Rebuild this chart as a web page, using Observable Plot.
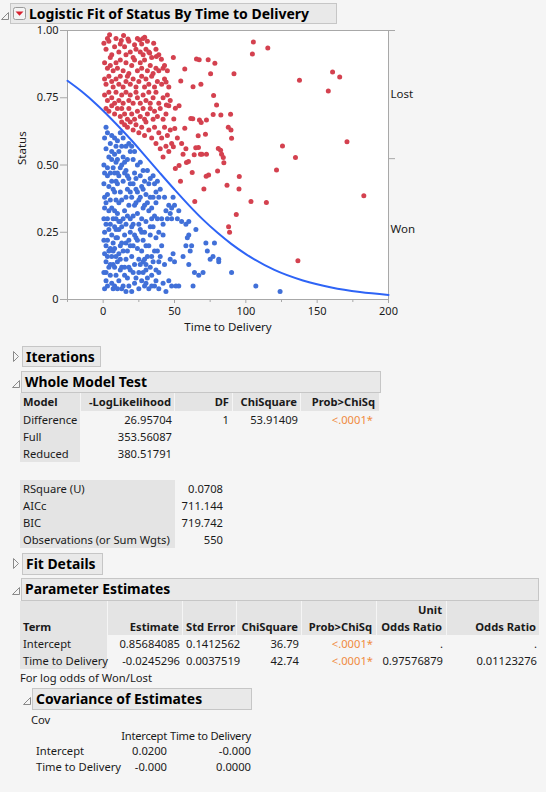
<!DOCTYPE html>
<html><head><meta charset="utf-8">
<script src="https://cdn.jsdelivr.net/npm/d3@7"></script>
<script src="https://cdn.jsdelivr.net/npm/@observablehq/plot@0.6"></script>
<style>
html,body{margin:0;padding:0}
body{width:546px;height:792px;position:relative;overflow:hidden;background:#f5f5f5;font-family:"Noto Sans","Open Sans",sans-serif;font-size:11.2px;color:#1a1a1a}
.hdr{position:absolute;box-sizing:border-box;background:#e9e9e9;border:1px solid #c6c6c6;font-weight:bold;font-size:13.9px;line-height:19px;padding-left:3px;white-space:nowrap;color:#000}
.ico{position:absolute}
.cell{position:absolute;box-sizing:border-box;white-space:nowrap;overflow:visible}
.txt{position:absolute;white-space:nowrap;line-height:17px}
#plot{position:absolute;left:0;top:26px}
</style></head>
<body>
<script>
// ---------------- data ----------------
const xTicks = [0, 50, 100, 150, 200];
const xMinorTicks = [-25, 25, 75, 125, 175];
const yTicks = [0, 0.25, 0.5, 0.75, 1];
const statusLevels = ["Won", "Lost"];
const statusCounts = [288, 262];
// fitted logistic curve, read at these x positions
const curveX = [-25, -15, -5, 0, 10, 20, 30, 40, 50, 60, 70, 80, 90, 100, 120, 140, 160, 180, 200];
const curveY = [0.813, 0.773, 0.727, 0.702, 0.648, 0.591, 0.530, 0.469, 0.409, 0.351, 0.297, 0.249, 0.206, 0.169, 0.110, 0.0707, 0.0445, 0.0277, 0.0171];
// Lost points [time to delivery, plotted probability position]
const lostPoints = [
[105.3,0.957],[104.6,0.913],[115.4,0.935],[91.7,0.839],[137.6,0.815],[160.8,0.846],[165.8,0.827],[157.8,0.775],
[170.9,0.586],[125.7,0.571],[134.8,0.528],[121.5,0.481],[182.7,0.386],[103.6,0.364],[114.4,0.361],[93.3,0.316],
[87.9,0.27],[88.6,0.25],[136.5,0.144],[95.4,0.457],[95.2,0.411],[86.8,0.425],[70.6,0.411],[64.2,0.364],[80.2,0.478],
[84.6,0.508],[84.2,0.528],[83,0.54],[80.7,0.561],[82.3,0.555],[73.9,0.463],[72.2,0.458],[62.4,0.472],[58.4,0.509],
[59.8,0.513],[54.2,0.44],[53.2,0.498],[50.6,0.487],[63.8,0.538],[68.2,0.54],[69.2,0.54],[72.4,0.54],[66.8,0.565],
[64.9,0.564],[57.2,0.637],[62.8,0.672],[61.4,0.673],[67.5,0.667],[68.7,0.658],[72.4,0.667],[71.7,0.614],[66.6,0.609],
[77.1,0.688],[77.4,0.758],[79.5,0.723],[82.5,0.686],[89.3,0.689],[87.7,0.64],[89.6,0.63],[90,0.599],[49.2,0.568],
[50.2,0.636],[49.5,0.671],[63,0.791],[68.5,0.8],[54.4,0.812],[44.1,0.809],[50.6,0.711],[53.2,0.72],[44.3,0.723],
[73.6,0.891],[78.3,0.878],[75.3,0.839],[65.4,0.894],[67.3,0.891],[57.2,0.857],[49.2,0.9],[42,0.86],[40.8,0.893],
[37.3,0.903],[35.4,0.953],[32.6,0.916],[29.1,0.975],[25.6,0.965],[22,0.947],[17.4,0.968],[14.3,0.981],[12.7,0.963],
[4.5,0.984],[0.5,0.953],
[2,0.93],[4,0.96],[6,0.91],[8,0.94],[9,0.97],[11,0.92],[12,0.95],[15,0.94],[16,0.91],[18,0.96],[19,0.92],[21,0.90],
[23,0.93],[24,0.97],[26,0.92],[27,0.95],[28,0.91],[30,0.93],[31,0.96],[32,0.92],[34,0.90],[37,0.93],[39,0.91],[28,0.97],
[5,0.90],[3,0.97],
[1,0.88],[3,0.86],[5,0.87],[7,0.85],[9,0.88],[10,0.86],[12,0.89],[14,0.85],[16,0.88],[18,0.84],[20,0.87],[22,0.89],
[24,0.85],[26,0.88],[27,0.86],[29,0.89],[31,0.85],[33,0.87],[35,0.84],[37,0.86],[39,0.85],[43,0.87],[45,0.85],
[1,0.82],[2,0.80],[4,0.83],[6,0.81],[7,0.79],[9,0.82],[11,0.80],[12,0.83],[14,0.79],[16,0.81],[17,0.83],[19,0.80],
[21,0.82],[23,0.79],[25,0.81],[27,0.83],[29,0.79],[30,0.82],[32,0.80],[34,0.83],[36,0.79],[38,0.81],[41,0.80],[43,0.82],[46,0.79],
[1,0.76],[3,0.74],[4,0.77],[6,0.75],[8,0.73],[9,0.77],[11,0.74],[13,0.76],[14,0.73],[16,0.77],[18,0.74],[19,0.76],
[21,0.73],[23,0.77],[24,0.75],[26,0.73],[28,0.76],[30,0.74],[32,0.77],[33,0.73],[35,0.75],[37,0.77],[39,0.73],[42,0.75],[45,0.76],[47,0.74],
[2,0.71],[4,0.70],[6,0.72],[8,0.69],[10,0.71],[12,0.68],[13,0.71],[15,0.69],[17,0.67],[18,0.71],[20,0.69],[22,0.67],
[24,0.70],[26,0.68],[28,0.71],[29,0.67],[31,0.69],[33,0.71],[35,0.67],[36,0.70],[38,0.68],[40,0.71],[42,0.67],[44,0.69],[46,0.72],
[13,0.66],[15,0.65],[17,0.64],[19,0.66],[21,0.63],[23,0.65],[25,0.62],[27,0.64],[29,0.61],[30,0.66],[32,0.63],[34,0.60],
[36,0.64],[37,0.58],[39,0.62],[41,0.60],[43,0.64],[45,0.61],[47,0.63],[40,0.56],[42,0.53],[44,0.57],[46,0.55],[48,0.58],
[52,0.60],[55,0.58],[56,0.54],[58,0.56]
];
// Won points
const wonPoints = [
[0.5,0.50],[1,0.47],[0.5,0.43],[1,0.38],[2,0.36],[1,0.34],[0.5,0.30],[2,0.28],[1,0.25],[0.5,0.22],[2,0.20],[1,0.17],
[2,0.14],[0.5,0.10],[2,0.07],[1,0.04],[3,0.05],[4,0.12],[4,0.18],[3,0.22],[4,0.26],[3,0.30],[4,0.33],[3,0.39],[4,0.42],
[3,0.46],[2,0.64],[3,0.62],
[5,0.58],[6,0.55],[6,0.52],[7,0.49],[5,0.47],[6,0.44],[7,0.41],[5,0.37],[6,0.34],[7,0.30],[5,0.28],[6,0.24],[7,0.21],
[5,0.19],[6,0.16],[7,0.13],[5,0.09],[6,0.06],[7,0.04],[8,0.60],[9,0.57],[8,0.54],[9,0.51],[8,0.47],[9,0.44],[8,0.40],
[9,0.37],[8,0.33],[9,0.30],[8,0.27],[9,0.23],[8,0.19],[9,0.16],[8,0.12],[9,0.09],[8,0.05],
[10,0.59],[11,0.55],[10,0.52],[12,0.49],[11,0.46],[10,0.43],[12,0.40],[11,0.36],[10,0.32],[12,0.29],[11,0.26],[10,0.23],
[12,0.20],[11,0.17],[10,0.14],[12,0.11],[11,0.07],[10,0.04],[13,0.57],[14,0.53],[13,0.50],[15,0.47],[14,0.44],[13,0.37],
[15,0.33],[14,0.30],[13,0.27],[15,0.24],[14,0.18],[13,0.12],[15,0.09],[14,0.05],
[16,0.57],[17,0.52],[16,0.48],[18,0.45],[17,0.41],[16,0.38],[18,0.35],[17,0.31],[16,0.28],[18,0.22],[17,0.18],[16,0.15],
[18,0.12],[17,0.08],[19,0.55],[19,0.40],[19,0.30],[19,0.20],
[20,0.57],[21,0.52],[22,0.47],[21,0.43],[20,0.38],[22,0.35],[21,0.31],[20,0.27],[22,0.24],[21,0.20],[20,0.16],[22,0.13],
[21,0.10],[24,0.50],[23,0.45],[24,0.40],[23,0.36],[24,0.32],[25,0.28],[23,0.23],[24,0.19],[25,0.15],[23,0.08],
[26,0.46],[27,0.42],[26,0.38],[28,0.34],[27,0.30],[26,0.26],[28,0.22],[27,0.18],[26,0.13],[28,0.10],[27,0.07],[29,0.44],
[30,0.39],[29,0.35],[30,0.29],[29,0.25],[30,0.20],[29,0.15],[30,0.11],[29,0.05],[30,0.13],
[31,0.48],[32,0.43],[33,0.38],[32,0.33],[34,0.30],[33,0.24],[32,0.20],[34,0.16],[33,0.12],[31,0.08],[32,0.04],[35,0.46],
[36,0.43],[35,0.38],[37,0.36],[36,0.31],[35,0.27],[37,0.23],[36,0.18],[35,0.14],[37,0.11],[36,0.05],[38,0.44],[39,0.38],
[38,0.30],[39,0.25],[38,0.18],[39,0.14],
[41,0.30],[42,0.24],[41,0.20],[43,0.13],[42,0.06],[44,0.03],[45,0.30],[46,0.35],[47,0.32],[48,0.30],[47,0.15],[46,0.07],
[49,0.38],[50,0.35],[48,0.34],[49,0.17],[50,0.14],[48,0.05],[51,0.05],[53,0.33],[52,0.30],[53,0.05],
[56,0.16],[58,0.20],[59,0.23],[60,0.24],[58,0.28],[61,0.18],[62,0.20],[60,0.13],[65,0.26],[63,0.05],[64,0.10],[67,0.09],
[70,0.10],[72,0.21],[73,0.18],[75,0.15],[77,0.16],[81,0.15],[81,0.14],[78,0.21],[55,0.29],[60,0.29],
[90,0.10],[107,0.05],[124,0.03],
[1,0.60],[2,0.56],[4,0.53],[3,0.49],[12,0.62],[14,0.60],[18,0.58],[22,0.55],[6,0.61],[10,0.47],[15,0.51],[17,0.46],
[19,0.43],[23,0.41],[25,0.37],[28,0.41],[31,0.36],[33,0.27],[34,0.34],[27,0.25],[24,0.22],[21,0.28],[19,0.25],[16,0.21],
[13,0.21],[11,0.29],[9,0.26],[7,0.18],[3,0.16],[2,0.10],[5,0.13],[12,0.15],[15,0.12],[19,0.11],[22,0.06],[25,0.10],
[28,0.14],[31,0.16],[34,0.09],[37,0.07],[39,0.10],[40,0.16],[42,0.28],[44,0.33],[43,0.38],[40,0.41],[37,0.40],[33,0.45],
[28,0.48],[26,0.51],[18,0.05],[16,0.03],[13,0.04],[20,0.03],[25,0.04],[30,0.06],[34,0.05],[39,0.04]
];
// Whole Model Test
const wmtHeaders = ["Model", "-LogLikelihood", "DF", "ChiSquare", "Prob>ChiSq"];
const wmtModel = ["Difference", "Full", "Reduced"];
const wmtNegLogLik = ["26.95704", "353.56087", "380.51791"];
const wmtDF = ["1", "", ""];
const wmtChiSq = ["53.91409", "", ""];
const wmtProb = ["<.0001*", "", ""];
const fitStatLabels = ["RSquare (U)", "AICc", "BIC", "Observations (or Sum Wgts)"];
const fitStatValues = ["0.0708", "711.144", "719.742", "550"];
// Parameter Estimates
const peHeaders = ["Term", "Estimate", "Std Error", "ChiSquare", "Prob>ChiSq", "Unit<br>Odds Ratio", "Odds Ratio"];
const peTerm = ["Intercept", "Time to Delivery"];
const peEstimate = ["0.85684085", "-0.0245296"];
const peStdErr = ["0.1412562", "0.0037519"];
const peChiSq = ["36.79", "42.74"];
const peProb = ["<.0001*", "<.0001*"];
const peUnitOR = [".", "0.97576879"];
const peOR = [".", "0.01123276"];
// Covariance
const covTerms = ["Intercept", "Time to Delivery"];
const covValues = [["0.0200", "-0.000"], ["-0.000", "0.0000"]];

// ---------------- helpers ----------------
const B = document.body;
function add(html, cls, st) {
  const d = document.createElement("div");
  d.className = cls; d.innerHTML = html;
  Object.assign(d.style, st); B.appendChild(d); return d;
}
const openTri = `<svg width="10" height="10"><path d="M8.5,1.5 L8.5,8.5 L1.5,8.5 Z" fill="none" stroke="#8a8a8a"/></svg>`;
const closedTri = `<svg width="8" height="13"><path d="M1.5,1.5 L6.5,6.5 L1.5,11.5 Z" fill="none" stroke="#8a8a8a"/></svg>`;
function header(text, x, y, w, h, open) {
  add(text, "hdr", {left: x + "px", top: y + "px", width: w + "px", height: h + "px"});
  if (open) add(openTri, "ico", {left: (x - 10) + "px", top: (y + 6) + "px"});
  else add(closedTri, "ico", {left: (x - 10) + "px", top: (y + 4) + "px"});
}
function cell(text, x, y, w, h, o = {}) {
  add(text, "cell", {left: x + "px", top: y + "px", width: w + "px", height: h + "px",
    lineHeight: (o.lh || h) + "px", textAlign: o.align || "left", background: o.bg || "transparent",
    fontWeight: o.bold ? "bold" : "normal", color: o.color || "#1a1a1a",
    paddingLeft: (o.pl ?? 3) + "px", paddingRight: (o.pr ?? 3) + "px", paddingTop: (o.pt || 0) + "px",
    letterSpacing: o.ls || "normal"});
}
const GRAY = "#e4e4e4", ORANGE = "#f08b3e";

// ---------------- title ----------------
add(openTri, "ico", {left: "0px", top: "9px"});
add("Logistic Fit of Status By Time to Delivery", "hdr", {left: "10px", top: "3px", width: "327px", height: "21px", paddingLeft: "18px", fontSize: "14px"});
add(`<svg width="13" height="13"><rect x="0.5" y="0.5" width="12" height="12" rx="2" fill="#f4f4f4" stroke="#9a9a9a"/><path d="M2.5,4.5 L10.5,4.5 L6.5,8.8 Z" fill="#d8212e"/></svg>`, "ico", {left: "13px", top: "7px"});

// ---------------- plot ----------------
const nObs = d3.sum(statusCounts);
const pWon = statusCounts[0] / nObs;
const statusMids = [pWon / 2, (1 + pWon) / 2];
const curve = curveX.map((x, i) => ({x, y: curveY[i]}));
const chart = Plot.plot({
  width: 420, height: 318,
  marginLeft: 67, marginRight: 32, marginTop: 4, marginBottom: 45,
  x: {domain: [-25, 200]},
  y: {domain: [0, 1]},
  style: {background: "transparent", fontFamily: "Noto Sans, sans-serif", fontSize: "11px", overflow: "visible"},
  marks: [
    Plot.frame({fill: "white", stroke: "#a8a8a8"}),
    Plot.dot(lostPoints, {x: d => d[0], y: d => d[1], r: 2.5, fill: "#d4414f", stroke: "none"}),
    Plot.dot(wonPoints, {x: d => d[0], y: d => d[1], r: 2.5, fill: "#4170d8", stroke: "none"}),
    Plot.line(curve, {x: "x", y: "y", curve: "monotone-x", stroke: "#2e64f6", strokeWidth: 2}),
    Plot.axisY({ticks: yTicks, tickSize: 7, tickPadding: 2, tickFormat: d => d === 0 ? "0" : d3.format(".2f")(d), stroke: "#a8a8a8", fill: "#1a1a1a", label: null}),
    Plot.axisX({ticks: xTicks, tickSize: 4, tickPadding: 4, tickFormat: d => String(d), stroke: "#a8a8a8", fill: "#1a1a1a", label: null}),
    Plot.axisX({ticks: xMinorTicks, tickSize: 3, tickFormat: () => "", stroke: "#a8a8a8", label: null}),
    Plot.axisY({anchor: "right", ticks: [pWon, 1], tickSize: 6, tickFormat: () => "", stroke: "#a8a8a8", label: null}),
    Plot.axisY({anchor: "right", ticks: statusMids, tickSize: 0, tickPadding: 2, tickFormat: d => d < pWon ? statusLevels[0] : statusLevels[1], fill: "#1a1a1a", fontSize: 11.5, label: null}),
    Plot.text(["Time to Delivery"], {frameAnchor: "bottom", dy: 31, fontSize: 11.5, fill: "#1a1a1a"}),
    Plot.text(["Status"], {frameAnchor: "left", dx: -45, rotate: -90, fontSize: 11.5, fill: "#1a1a1a"})
  ]
});
chart.id = "plot";
B.appendChild(chart);

// ---------------- Iterations / Whole Model Test ----------------
header("Iterations", 22, 346, 79, 21, false);
header("Whole Model Test", 21, 371, 360, 22, true);
const wmtEdges = [20, 81, 175, 233, 301, 380];
wmtHeaders.forEach((h, j) => cell(h, wmtEdges[j], 393, wmtEdges[j + 1] - wmtEdges[j] - 1, 18,
  {bold: true, bg: GRAY, align: j ? "right" : "left", pr: j === 4 ? 4 : 3}));
const wmtCols = [wmtModel, wmtNegLogLik, wmtDF, wmtChiSq, wmtProb];
wmtModel.forEach((m, i) => {
  wmtCols.forEach((col, j) => cell(col[i], wmtEdges[j], 411 + 17 * i, wmtEdges[j + 1] - wmtEdges[j] - (j ? 0 : 1), 17,
    {bg: j ? "transparent" : GRAY, align: j ? "right" : "left", color: j === 4 ? ORANGE : "#1a1a1a", pr: j === 4 ? 7 : (j === 2 ? 4 : 3)}));
});
fitStatLabels.forEach((l, i) => {
  cell(l, 20, 480 + 17 * i, 155, 17, {bg: GRAY});
  cell(fitStatValues[i], 175, 480 + 17 * i, 51, 17, {align: "right"});
});

// ---------------- Fit Details / Parameter Estimates ----------------
header("Fit Details", 22, 553, 81, 22, false);
header("Parameter Estimates", 21, 578, 518, 23, true);
const peEdges = [20, 108, 183, 237, 302, 377, 447, 540];
peHeaders.forEach((h, j) => {
  const two = h.includes("<br>");
  cell(h, peEdges[j], 601, peEdges[j + 1] - peEdges[j] - 1, 34,
    {bold: true, bg: GRAY, align: j ? "right" : "left", lh: 17, pt: two ? 0 : 17, pr: (j === 4 || j === 5) ? 4 : 3});
});
const peCols = [peTerm, peEstimate, peStdErr, peChiSq, peProb, peUnitOR, peOR];
peTerm.forEach((t, i) => {
  peCols.forEach((col, j) => cell(col[i], peEdges[j], 635 + 17 * i, peEdges[j + 1] - peEdges[j] - (j ? 0 : 1), 17,
    {bg: j ? "transparent" : GRAY, align: j ? "right" : "left", color: j === 4 ? ORANGE : "#1a1a1a", pr: (j === 4 || j === 5) ? 4 : 3}));
});
add("For log odds of Won/Lost", "txt", {left: "20px", top: "669px"});

// ---------------- Covariance ----------------
header("Covariance of Estimates", 32, 688, 220, 22, true);
add("Cov", "txt", {left: "31px", top: "711px"});
const covLabelX = 36;
const covRight = [167, 251];
covTerms.forEach((t, j) => cell(t, covRight[j] - 100, 727, 100, 17, {align: "right", pr: 0, pl: 0, ls: "-0.25px"}));
covTerms.forEach((t, i) => {
  cell(t, covLabelX, 742 + 16 * i, 90, 17, {pl: 0});
  covValues[i].forEach((v, j) => cell(v, covRight[j] - 60, 742 + 16 * i, 60, 17, {align: "right", pr: 0, pl: 0}));
});
</script>
</body></html>
